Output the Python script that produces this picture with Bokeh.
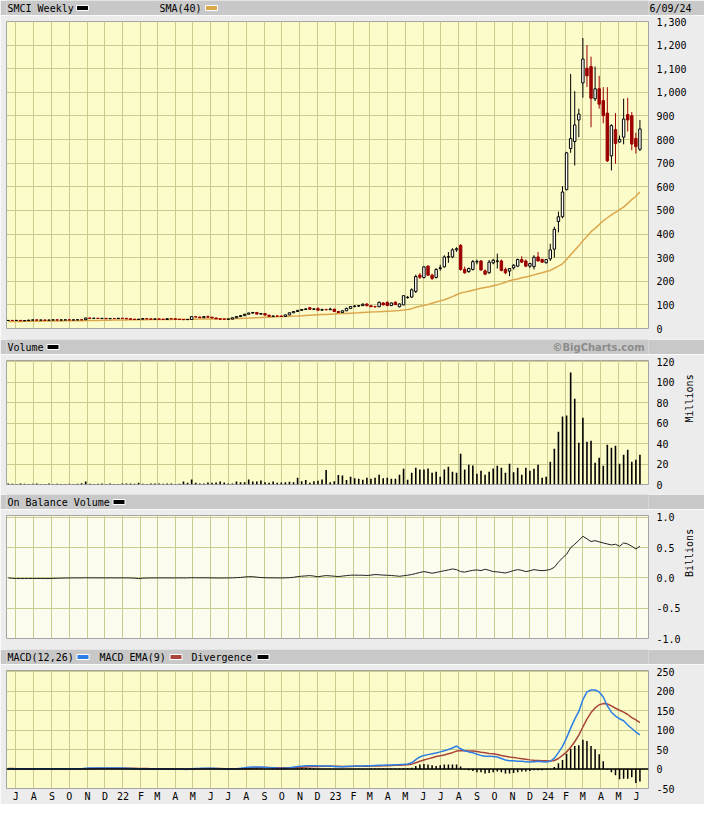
import math
import numpy as np
import pandas as pd
from bokeh.plotting import figure
from bokeh.layouts import column
from bokeh.models import (Range1d, FixedTicker, NumeralTickFormatter, CustomJSTickFormatter,
                          Span, Label)
from bokeh.embed import file_html
from bokeh.resources import INLINE

# ---------------- data ----------------
symbol_title = "SMCI Weekly"
sma_title = "SMA(40)"
chart_date = "6/09/24"
first_week = "2021-06-18"
first_month = "2021-07-01"

month_labels = ["J", "A", "S", "O", "N", "D", "22", "F", "M", "A", "M", "J",
                "J", "A", "S", "O", "N", "D", "23", "F", "M", "A", "M", "J",
                "J", "A", "S", "O", "N", "D", "24", "F", "M", "A", "M", "J"]

opens = [34.0, 34.3, 34.0, 34.4, 32.6, 33.5, 35.5, 36.5, 35.4, 35.8,
         35.2, 35.7, 36.6, 35.6, 36.3, 36.6, 36.0, 36.5, 37.0, 37.2,
         44.5, 43.0, 43.6, 42.4, 43.2, 41.5, 42.6, 42.0, 43.4, 43.0,
         41.0, 39.5, 38.2, 39.6, 41.8, 40.6, 39.2, 40.5, 39.2, 38.4,
         41.4, 40.8, 39.0, 37.8, 37.4, 38.2, 50.0, 48.5, 45.8, 50.0,
         48.0, 44.6, 41.0, 39.5, 39.0, 39.8, 45.5, 50.5, 54.5, 60.5,
         65.5, 68.0, 61.0, 63.0, 56.8, 51.5, 53.0, 52.6, 51.2, 57.6,
         66.5, 72.0, 77.0, 80.5, 88.0, 81.5, 84.0, 77.5, 80.0, 79.5,
         82.0, 72.0, 68.0, 75.0, 85.0, 93.0, 95.0, 97.0, 104.0, 96.5,
         92.5, 92.0, 108.0, 111.0, 97.0, 111.0, 92.0, 100.0, 131.0, 133.0,
         157.0, 226.0, 216.0, 264.0, 226.0, 216.0, 254.0, 261.0, 302.0, 303.0,
         333.0, 352.0, 250.0, 241.0, 250.0, 282.0, 286.0, 244.0, 236.0, 278.0,
         284.0, 286.0, 250.0, 243.0, 257.0, 264.0, 292.0, 286.0, 264.0, 262.0,
         303.0, 292.0, 278.0, 295.0, 336.0, 453.0, 473.0, 588.0, 762.0, 792.0,
         883.0, 1040.0, 1102.0, 1109.0, 973.0, 1015.0, 965.0, 912.0, 731.0, 842.0,
         790.0, 810.0, 906.0, 901.0, 805.0, 759.0]

highs = [35.0, 35.2, 34.8, 34.9, 33.9, 35.8, 36.8, 37.2, 36.0, 36.4,
         36.0, 37.0, 37.0, 36.6, 37.0, 37.2, 36.8, 37.5, 38.2, 45.5,
         45.8, 44.2, 44.5, 43.8, 44.0, 43.0, 43.6, 43.8, 44.2, 43.5,
         42.0, 40.5, 40.0, 42.5, 42.6, 41.5, 41.0, 41.2, 40.2, 42.0,
         42.4, 41.3, 40.0, 38.6, 38.6, 52.0, 51.0, 49.6, 51.0, 55.0,
         49.0, 45.5, 42.0, 41.0, 40.2, 46.0, 51.0, 56.0, 62.0, 67.0,
         70.0, 69.0, 64.0, 63.5, 57.5, 54.0, 54.5, 54.0, 58.0, 68.0,
         73.0, 78.0, 82.0, 84.0, 90.0, 85.0, 90.0, 84.0, 84.0, 88.0,
         83.0, 74.0, 76.0, 88.0, 95.0, 99.0, 99.0, 106.0, 106.0, 98.0,
         96.0, 114.0, 112.0, 114.0, 110.0, 115.0, 106.0, 140.0, 138.0, 170.0,
         228.0, 235.0, 265.0, 268.0, 232.0, 255.0, 270.0, 310.0, 324.0, 340.0,
         344.0, 357.0, 262.0, 258.0, 290.0, 292.0, 290.0, 250.0, 290.0, 295.0,
         317.0, 292.0, 258.0, 256.0, 272.0, 296.0, 306.0, 292.0, 278.0, 310.0,
         324.0, 296.0, 294.0, 359.0, 431.0, 495.0, 603.0, 748.0, 1078.0, 1005.0,
         931.0, 1230.0, 1200.0, 1151.0, 1109.0, 1070.0, 1022.0, 1022.0, 865.0, 912.0,
         817.0, 973.0, 977.0, 917.0, 829.0, 883.0]

lows = [33.0, 33.6, 33.2, 31.5, 32.0, 33.2, 35.0, 35.0, 34.6, 34.8,
        34.6, 35.4, 35.2, 35.3, 35.8, 35.6, 35.4, 36.0, 36.4, 37.0,
        42.5, 42.2, 42.0, 41.6, 40.8, 40.8, 41.5, 41.8, 42.5, 40.5,
        38.8, 37.5, 36.6, 39.0, 40.0, 38.6, 37.5, 38.6, 37.6, 38.0,
        40.0, 38.6, 37.2, 36.2, 36.0, 37.8, 46.5, 45.0, 45.2, 47.0,
        44.0, 40.0, 38.0, 37.5, 37.2, 39.5, 45.0, 50.0, 54.0, 60.0,
        63.5, 60.0, 59.5, 56.0, 50.5, 51.0, 51.5, 50.5, 51.0, 57.0,
        66.0, 70.5, 76.0, 79.0, 80.0, 79.0, 76.0, 76.5, 77.0, 78.5,
        70.0, 66.0, 67.0, 74.0, 84.0, 90.0, 92.0, 95.0, 94.0, 90.0,
        89.0, 91.0, 98.0, 96.0, 95.0, 100.0, 90.0, 98.0, 126.0, 130.0,
        150.0, 210.0, 212.0, 222.0, 205.0, 212.0, 245.0, 258.0, 278.0, 298.0,
        325.0, 245.0, 232.0, 236.0, 246.0, 272.0, 245.0, 226.0, 232.0, 272.0,
        254.0, 242.0, 230.0, 222.0, 250.0, 260.0, 278.0, 260.0, 256.0, 250.0,
        284.0, 278.0, 276.0, 286.0, 300.0, 407.0, 467.0, 585.0, 744.0, 690.0,
        810.0, 977.0, 1023.0, 852.0, 963.0, 931.0, 869.0, 705.0, 669.0, 698.0,
        787.0, 780.0, 834.0, 755.0, 741.0, 751.0]

closes = [34.2, 34.0, 34.4, 32.6, 33.5, 35.5, 36.2, 35.4, 35.8, 35.0,
          35.7, 36.6, 35.6, 36.3, 36.6, 36.0, 36.5, 37.0, 36.9, 44.5,
          43.0, 43.6, 42.4, 43.2, 41.5, 42.6, 42.0, 43.4, 43.0, 41.0,
          39.5, 38.2, 39.6, 41.8, 40.6, 39.2, 40.5, 39.2, 38.4, 41.4,
          40.8, 39.0, 37.8, 37.4, 38.0, 50.0, 48.5, 45.8, 50.2, 48.0,
          44.6, 41.0, 39.5, 39.0, 39.8, 45.5, 50.5, 54.5, 60.5, 65.5,
          68.0, 61.0, 63.0, 56.8, 51.5, 53.0, 52.6, 51.2, 57.6, 66.5,
          72.0, 77.0, 80.5, 83.0, 81.5, 83.0, 77.5, 80.0, 79.5, 82.0,
          72.0, 67.5, 75.0, 85.0, 93.0, 95.0, 97.0, 103.0, 96.5, 92.5,
          92.0, 111.0, 100.0, 97.0, 108.0, 101.0, 104.0, 139.0, 132.0, 164.0,
          220.0, 217.0, 261.0, 226.0, 212.0, 250.0, 257.0, 303.0, 304.0, 333.0,
          338.0, 250.0, 236.0, 254.0, 283.0, 284.0, 248.0, 230.0, 281.0, 289.0,
          286.0, 246.0, 236.0, 254.0, 268.0, 292.0, 281.0, 264.0, 275.0, 302.0,
          286.0, 281.0, 292.0, 333.0, 420.0, 473.0, 578.0, 744.0, 804.0, 862.0,
          908.0, 1141.0, 1070.0, 975.0, 1015.0, 950.0, 901.0, 710.0, 859.0, 783.0,
          801.0, 887.0, 883.0, 781.0, 770.0, 845.0]

sma40 = [29.5, 29.7, 29.9, 30.1, 30.3, 30.5, 30.7, 30.9, 31.1, 31.3,
         31.5, 31.7, 31.9, 32.1, 32.3, 32.5, 32.7, 32.9, 33.1, 33.4,
         33.7, 34.0, 34.3, 34.6, 34.9, 35.2, 35.5, 35.8, 36.1, 36.4,
         36.6, 36.8, 37.0, 37.2, 37.4, 37.6, 37.8, 38.0, 38.2, 38.4,
         38.6, 38.8, 38.9, 39.0, 39.1, 39.3, 39.5, 39.7, 39.9, 40.1,
         40.3, 40.5, 40.7, 40.9, 41.1, 41.5, 42.0, 42.6, 43.3, 44.0,
         44.8, 45.6, 46.4, 47.2, 48.0, 48.8, 49.6, 50.3, 51.0, 51.7,
         52.4, 53.3, 54.3, 55.4, 56.5, 57.4, 58.2, 59.0, 59.8, 60.6,
         61.4, 62.2, 63.0, 63.9, 64.8, 65.7, 66.6, 67.6, 68.6, 69.5,
         70.4, 71.3, 72.2, 73.1, 74.0, 75.2, 76.6, 78.3, 80.2, 84.0,
         90.0, 94.0, 98.0, 102.0, 107.0, 112.0, 117.0, 122.0, 128.0, 135.0,
         143.0, 150.0, 154.0, 158.0, 162.0, 166.0, 170.0, 174.0, 177.0, 181.0,
         185.0, 190.0, 196.0, 202.0, 206.0, 210.0, 215.0, 218.0, 222.0, 227.0,
         232.0, 236.0, 241.0, 246.0, 255.0, 264.0, 274.0, 292.0, 312.0, 331.0,
         350.0, 372.0, 390.0, 410.0, 424.0, 440.0, 456.0, 469.0, 481.0, 492.0,
         503.0, 514.0, 530.0, 546.0, 560.0, 578.0]

volume_m = [1.0, 0.7, 0.6, 1.1, 0.7, 0.6, 0.7, 1.0, 0.6, 0.6,
            1.0, 0.6, 0.7, 0.6, 0.6, 0.7, 0.6, 0.7, 1.2, 3.0,
            0.8, 0.6, 0.7, 1.0, 0.6, 1.0, 0.6, 0.6, 1.0, 1.1,
            1.0, 0.7, 1.6, 0.7, 0.6, 1.0, 1.0, 1.0, 0.8, 1.0,
            1.0, 0.6, 0.7, 2.9, 1.6, 4.9, 1.6, 1.0, 1.0, 2.0,
            1.6, 2.0, 2.9, 2.0, 1.0, 1.0, 2.9, 2.3, 2.3, 4.9,
            2.9, 2.9, 3.9, 2.3, 1.6, 2.9, 1.6, 2.0, 2.3, 2.6,
            2.3, 6.6, 3.3, 4.3, 1.6, 3.3, 3.6, 4.9, 14.1, 2.3,
            3.3, 9.2, 8.8, 4.3, 7.5, 6.2, 5.6, 4.6, 6.6, 5.6,
            6.6, 9.5, 6.2, 6.6, 5.6, 5.6, 9.5, 15.4, 4.6, 11.5,
            16.4, 14.7, 14.7, 15.7, 11.5, 12.4, 7.5, 14.7, 17.3, 12.4,
            11.5, 30.1, 14.7, 19.3, 18.6, 10.5, 13.4, 9.5, 12.4, 15.6,
            18.3, 16.5, 11.4, 20.3, 12.0, 16.5, 9.5, 16.4, 13.4, 15.4,
            19.3, 6.5, 7.5, 22.2, 35.0, 51.7, 66.4, 67.4, 109.5, 84.0,
            40.9, 65.4, 41.9, 42.8, 21.3, 26.2, 18.3, 38.9, 36.0, 37.9,
            20.3, 29.1, 34.0, 22.2, 24.2, 29.1]

obv_b = [0.000, -0.007, -0.010, -0.011, -0.010, -0.010, -0.009, -0.010, -0.010, -0.011,
         -0.010, -0.008, -0.006, -0.004, -0.002, -0.001, 0.000, 0.000, 0.000, 0.002,
         0.001, 0.001, 0.000, 0.001, 0.000, 0.001, 0.000, 0.000, 0.001, 0.000,
         -0.001, -0.005, -0.012, -0.005, -0.002, -0.001, 0.000, 0.000, 0.000, 0.000,
         0.000, 0.000, 0.000, 0.000, 0.000, 0.003, 0.002, 0.001, 0.002, 0.001,
         0.000, -0.001, -0.002, -0.001, 0.000, 0.001, 0.004, 0.008, 0.015, 0.020,
         0.020, 0.012, 0.006, 0.003, 0.001, 0.001, 0.000, 0.000, 0.001, 0.004,
         0.010, 0.022, 0.028, 0.033, 0.038, 0.030, 0.018, 0.030, 0.038, 0.034,
         0.028, 0.022, 0.030, 0.038, 0.044, 0.046, 0.044, 0.044, 0.040, 0.046,
         0.055, 0.052, 0.046, 0.044, 0.040, 0.034, 0.027, 0.036, 0.044, 0.056,
         0.072, 0.090, 0.104, 0.092, 0.077, 0.090, 0.104, 0.118, 0.132, 0.148,
         0.136, 0.104, 0.096, 0.112, 0.125, 0.132, 0.120, 0.143, 0.125, 0.104,
         0.100, 0.090, 0.082, 0.100, 0.120, 0.137, 0.125, 0.104, 0.118, 0.137,
         0.126, 0.120, 0.126, 0.140, 0.175, 0.260, 0.330, 0.390, 0.500, 0.555,
         0.620, 0.687, 0.645, 0.600, 0.615, 0.595, 0.577, 0.560, 0.544, 0.555,
         0.522, 0.577, 0.560, 0.522, 0.478, 0.522]

macd = [0.8, 0.7, 0.6, 0.4, 0.2, 0.2, 0.4, 0.5, 0.5, 0.5,
        0.5, 0.6, 0.5, 0.5, 0.6, 0.5, 0.5, 0.6, 0.8, 1.8,
        2.4, 2.7, 2.8, 2.9, 2.7, 2.7, 2.5, 2.4, 2.4, 2.0,
        1.5, 0.9, 0.5, 0.5, 0.3, 0.0, -0.1, -0.2, -0.4, -0.2,
        -0.1, -0.3, -0.6, -0.8, -0.9, 0.6, 1.5, 1.8, 2.2, 2.2,
        1.8, 1.2, 0.5, 0.0, -0.3, 0.2, 1.0, 2.0, 3.1, 4.3,
        5.3, 5.2, 5.1, 4.5, 3.6, 3.0, 2.4, 1.9, 2.3, 3.4,
        4.8, 6.2, 7.4, 8.4, 8.5, 8.6, 8.1, 7.8, 7.6, 7.6,
        6.8, 5.9, 6.0, 6.7, 7.4, 7.5, 7.7, 8.0, 8.3, 8.6,
        9.0, 9.4, 9.8, 10.2, 10.6, 11.0, 11.4, 12.0, 13.0, 16.0,
        24.0, 31.0, 35.0, 37.0, 39.0, 41.0, 44.0, 47.0, 50.0, 54.0,
        59.0, 52.0, 47.0, 44.0, 42.0, 38.0, 35.0, 33.0, 33.0, 32.0,
        31.0, 27.0, 23.0, 21.0, 21.0, 20.0, 20.0, 19.0, 18.0, 19.0,
        20.0, 19.0, 18.0, 20.0, 28.0, 42.0, 58.0, 80.0, 105.0, 128.0,
        148.0, 178.0, 198.0, 203.0, 203.0, 198.0, 185.0, 162.0, 146.0, 136.0,
        129.0, 124.0, 113.0, 104.0, 95.0, 88.0]

macd_ema9 = [1.2, 1.1, 1.0, 0.9, 0.7, 0.6, 0.6, 0.6, 0.6, 0.6,
             0.5, 0.5, 0.5, 0.5, 0.5, 0.5, 0.5, 0.5, 0.6, 0.8,
             1.1, 1.4, 1.7, 1.9, 2.1, 2.2, 2.3, 2.3, 2.3, 2.3,
             2.1, 1.9, 1.6, 1.4, 1.2, 0.9, 0.7, 0.5, 0.3, 0.2,
             0.1, 0.0, -0.1, -0.2, -0.4, -0.2, 0.2, 0.5, 0.8, 1.1,
             1.2, 1.2, 1.1, 0.9, 0.6, 0.5, 0.6, 0.9, 1.3, 1.9,
             2.6, 3.1, 3.5, 3.7, 3.7, 3.6, 3.4, 3.1, 3.0, 3.1,
             3.4, 4.0, 4.6, 5.4, 6.0, 6.5, 6.8, 7.0, 7.1, 7.2,
             7.1, 6.9, 6.7, 6.7, 6.8, 6.9, 7.0, 7.1, 7.3, 7.5,
             7.7, 8.0, 8.4, 8.7, 9.0, 9.4, 9.8, 10.3, 11.0, 12.5,
             16.0, 20.0, 23.0, 26.0, 29.0, 32.0, 34.0, 36.0, 39.0, 42.0,
             46.0, 47.0, 47.0, 46.5, 46.0, 45.0, 43.0, 41.5, 40.0, 39.0,
             37.5, 35.0, 33.0, 31.0, 29.5, 28.0, 26.5, 25.0, 23.5, 22.5,
             22.0, 21.5, 21.0, 20.5, 22.0, 27.0, 35.0, 44.0, 56.0, 70.0,
             87.0, 108.0, 128.0, 145.0, 157.0, 165.0, 168.0, 167.0, 162.0, 156.0,
             151.0, 146.0, 140.0, 132.0, 126.0, 119.0]

divergence = [-0.4, -0.4, -0.4, -0.5, -0.5, -0.4, -0.2, -0.1, -0.1, -0.1,
              0.0, 0.1, 0.0, 0.0, 0.1, 0.0, 0.0, 0.1, 0.2, 1.0,
              1.3, 1.3, 1.1, 1.0, 0.6, 0.5, 0.2, 0.1, 0.1, -0.3,
              -0.6, -1.0, -1.1, -0.9, -0.9, -0.9, -0.8, -0.7, -0.7, -0.4,
              -0.2, -0.3, -0.5, -0.6, -0.5, 0.8, 1.3, 1.3, 1.4, 1.1,
              0.6, 0.0, -0.6, -0.9, -0.9, -0.3, 0.4, 1.1, 1.8, 2.4,
              2.7, 2.1, 1.6, 0.8, -0.1, -0.6, -1.0, -1.2, -0.7, 0.3,
              1.4, 2.2, 2.8, 3.0, 2.5, 2.1, 1.3, 0.8, 0.5, 0.4,
              -0.3, -1.0, -0.7, 0.0, 0.6, 0.6, 0.7, 0.9, 1.0, 1.1,
              1.3, 1.4, 1.4, 1.5, 1.6, 1.6, 1.6, 1.7, 2.0,
              3.5, 8.0, 11.5, 13.0, 11.5, 10.0, 8.0, 10.0, 11.5, 11.5, 11.5, 11.5, 6.5,
              -1.0, -3.0, -5.0, -8.0, -8.0, -11.5, -10.0, -8.0, -6.5, -8.0, -11.5,
              -11.5, -10.0, -8.0, -6.5, -6.5, -5.0, -3.0, -3.0, -3.0, -1.5, 0.0,
              5.0, 15.0, 23.0, 39.0, 52.0, 59.0, 61.0, 75.0, 72.0, 59.0, 51.0,
              38.0, 20.0, -2.0, -8.0, -16.0, -26.0, -25.0, -25.0, -21.0, -36.0, -32.0]

price_ticks = [0, 100, 200, 300, 400, 500, 600, 700, 800, 900, 1000, 1100, 1200, 1300]
volume_ticks = [0, 20, 40, 60, 80, 100, 120]
obv_ticks = [-1.0, -0.5, 0.0, 0.5, 1.0]
macd_ticks = [-50, 0, 50, 100, 150, 200, 250]

n = len(closes)
for arr in (opens, highs, lows, sma40, volume_m, obv_b, macd, macd_ema9, divergence):
    assert len(arr) == n, len(arr)

# ---------------- styling ----------------
W = 704
BL, BR = 6, 56          # left / right borders (frame = 642 px)
FW = W - BL - BR
FONT = "DejaVu Sans Mono"
BG = "#ececec"
HEAD = "#c8c8c8"
PLOT_BG = "#fcfcca"
OBV_BG = "#fbfbee"
GRID = "#cbcb8f"
RED = "#9c0000"
SMA_C = "#dca64c"
BLUE = "#2c7de6"
BROWN = "#a8443c"
DAY = 86400000.0


def to_ms(ts):
    return (pd.Timestamp(ts) - pd.Timestamp("1970-01-01")) / pd.Timedelta(milliseconds=1)


weeks = pd.date_range(first_week, periods=n, freq="7D")
x = np.array([to_ms(w) for w in weeks])
month_ticks = [to_ms(m) for m in pd.date_range(first_month, periods=len(month_labels), freq="MS")]
x_range = Range1d(to_ms("2021-06-15"), to_ms("2024-06-21 17:00"))


def style_axis(ax):
    ax.axis_line_color = None
    ax.major_tick_line_color = None
    ax.minor_tick_line_color = None
    ax.major_tick_out = 0
    ax.major_tick_in = 0
    ax.minor_tick_out = 0
    ax.minor_tick_in = 0
    ax.major_label_text_font = FONT
    ax.major_label_text_font_size = "10px"
    ax.major_label_text_color = "#000000"
    ax.axis_label_text_font = FONT
    ax.axis_label_text_font_size = "10px"
    ax.axis_label_text_font_style = "normal"
    ax.axis_label_text_color = "#000000"


def panel(h, top, bottom, yr, yticks, fmt, bg, xaxis=False):
    p = figure(width=W, height=h, x_range=x_range, y_range=yr,
               x_axis_location="below" if xaxis else None, y_axis_location="right",
               output_backend="svg", toolbar_location=None,
               min_border_left=BL, min_border_right=BR,
               min_border_top=top, min_border_bottom=bottom)
    p.background_fill_color = bg
    p.border_fill_color = BG
    p.outline_line_color = "#a4a4a4"
    p.xgrid.ticker = FixedTicker(ticks=month_ticks)
    p.ygrid.ticker = FixedTicker(ticks=yticks)
    p.grid.grid_line_color = GRID
    p.grid.grid_line_width = 1
    ax = p.yaxis[0]
    ax.ticker = FixedTicker(ticks=yticks)
    ax.formatter = fmt
    style_axis(ax)
    ax.major_label_standoff = 8
    return p


def header(right_text=None):
    h = figure(width=W, height=15, x_range=Range1d(0, FW), y_range=Range1d(0, 15),
               x_axis_location=None, y_axis_location="right" if right_text else None,
               output_backend="svg", toolbar_location=None,
               min_border_left=BL, min_border_right=BR, min_border_top=0, min_border_bottom=0)
    h.background_fill_color = HEAD
    h.border_fill_color = HEAD
    h.outline_line_color = None
    h.grid.visible = False
    if right_text:
        ax = h.yaxis[0]
        ax.ticker = FixedTicker(ticks=[7.5])
        ax.formatter = CustomJSTickFormatter(args=dict(t=right_text), code="return t;")
        style_axis(ax)
        ax.major_label_standoff = 1
    return h


def htext(h, xpos, txt, align="left", color="#000000", font=FONT, style="normal"):
    h.add_layout(Label(x=xpos, y=7.5, text=txt, text_align=align, text_baseline="middle",
                       text_font=font, text_font_size="10px", text_color=color,
                       text_font_style=style))


def swatch(h, cx, color):
    h.rect(x=[cx], y=[7.5], width=12, height=5, fill_color=color,
           line_color="white", line_width=1)


# ---------------- header 1 + price ----------------
h1 = header(chart_date)
htext(h1, 1, symbol_title)
swatch(h1, 76, "black")
htext(h1, 153, sma_title)
swatch(h1, 205, SMA_C)

price = panel(324, 6, 11, Range1d(0, 1300), price_ticks,
              NumeralTickFormatter(format="0,0"), PLOT_BG)
price.line(x, sma40, line_color=SMA_C, line_width=1.5)

O = np.array(opens); H = np.array(highs); L = np.array(lows); C = np.array(closes)
up = C >= O
dn = ~up
body_w = 4.2 * DAY
price.segment(x0=x[up], y0=L[up], x1=x[up], y1=H[up], line_color="black", line_width=1)
price.vbar(x=x[up], width=body_w, top=C[up], bottom=O[up],
           fill_color="white", line_color="black", line_width=1)
price.segment(x0=x[dn], y0=L[dn], x1=x[dn], y1=H[dn], line_color=RED, line_width=1)
price.vbar(x=x[dn], width=body_w, top=O[dn], bottom=C[dn],
           fill_color=RED, line_color=RED, line_width=1)

# ---------------- header 2 + volume ----------------
h2 = header()
htext(h2, 1, "Volume")
swatch(h2, 46.5, "black")
htext(h2, 592, "©BigCharts.com", align="center", color="#8c8c8c",
      font="DejaVu Sans", style="bold")

vol = panel(140, 6, 10, Range1d(0, 121.3), volume_ticks,
            NumeralTickFormatter(format="0"), PLOT_BG)
vol.segment(x0=x, y0=0, x1=x, y1=volume_m, line_color="black", line_width=1.6)
vol.yaxis.axis_label = "Millions"
vol.yaxis.axis_label_standoff = 12
vol.yaxis.axis_label_orientation = math.pi / 2

# ---------------- header 3 + OBV ----------------
h3 = header()
htext(h3, 1, "On Balance Volume")
swatch(h3, 112.5, "black")

obv = panel(140, 6, 11, Range1d(-1.0, 1.03), obv_ticks,
            NumeralTickFormatter(format="0.0"), OBV_BG)
obv.line(x, obv_b, line_color="#222222", line_width=1)
obv.yaxis.axis_label = "Billions"
obv.yaxis.axis_label_standoff = 6
obv.yaxis.axis_label_orientation = math.pi / 2

# ---------------- header 4 + MACD ----------------
h4 = header()
htext(h4, 1, "MACD(12,26)")
swatch(h4, 76.5, BLUE)
htext(h4, 93, "MACD EMA(9)")
swatch(h4, 169.5, BROWN)
htext(h4, 185, "Divergence")
swatch(h4, 256.5, "black")

mp = panel(140, 6, 15, Range1d(-50, 253), macd_ticks,
           NumeralTickFormatter(format="0"), PLOT_BG, xaxis=True)
mp.segment(x0=x, y0=0, x1=x, y1=divergence, line_color="black", line_width=1.5)
mp.add_layout(Span(location=0, dimension="width", line_color="black", line_width=1.5))
mp.line(x, macd_ema9, line_color=BROWN, line_width=1.5)
mp.line(x, macd, line_color=BLUE, line_width=1.5)
xa = mp.xaxis[0]
xa.ticker = FixedTicker(ticks=month_ticks)
xa.formatter = CustomJSTickFormatter(
    args=dict(mt=month_ticks, ml=month_labels),
    code="const i = mt.indexOf(tick); return i < 0 ? '' : ml[i];")
style_axis(xa)
xa.major_label_standoff = 2

layout = column(h1, price, h2, vol, h3, obv, h4, mp, spacing=0)

with open("out.html", "w") as f:
    f.write(file_html(layout, INLINE, title="SMCI Weekly"))
